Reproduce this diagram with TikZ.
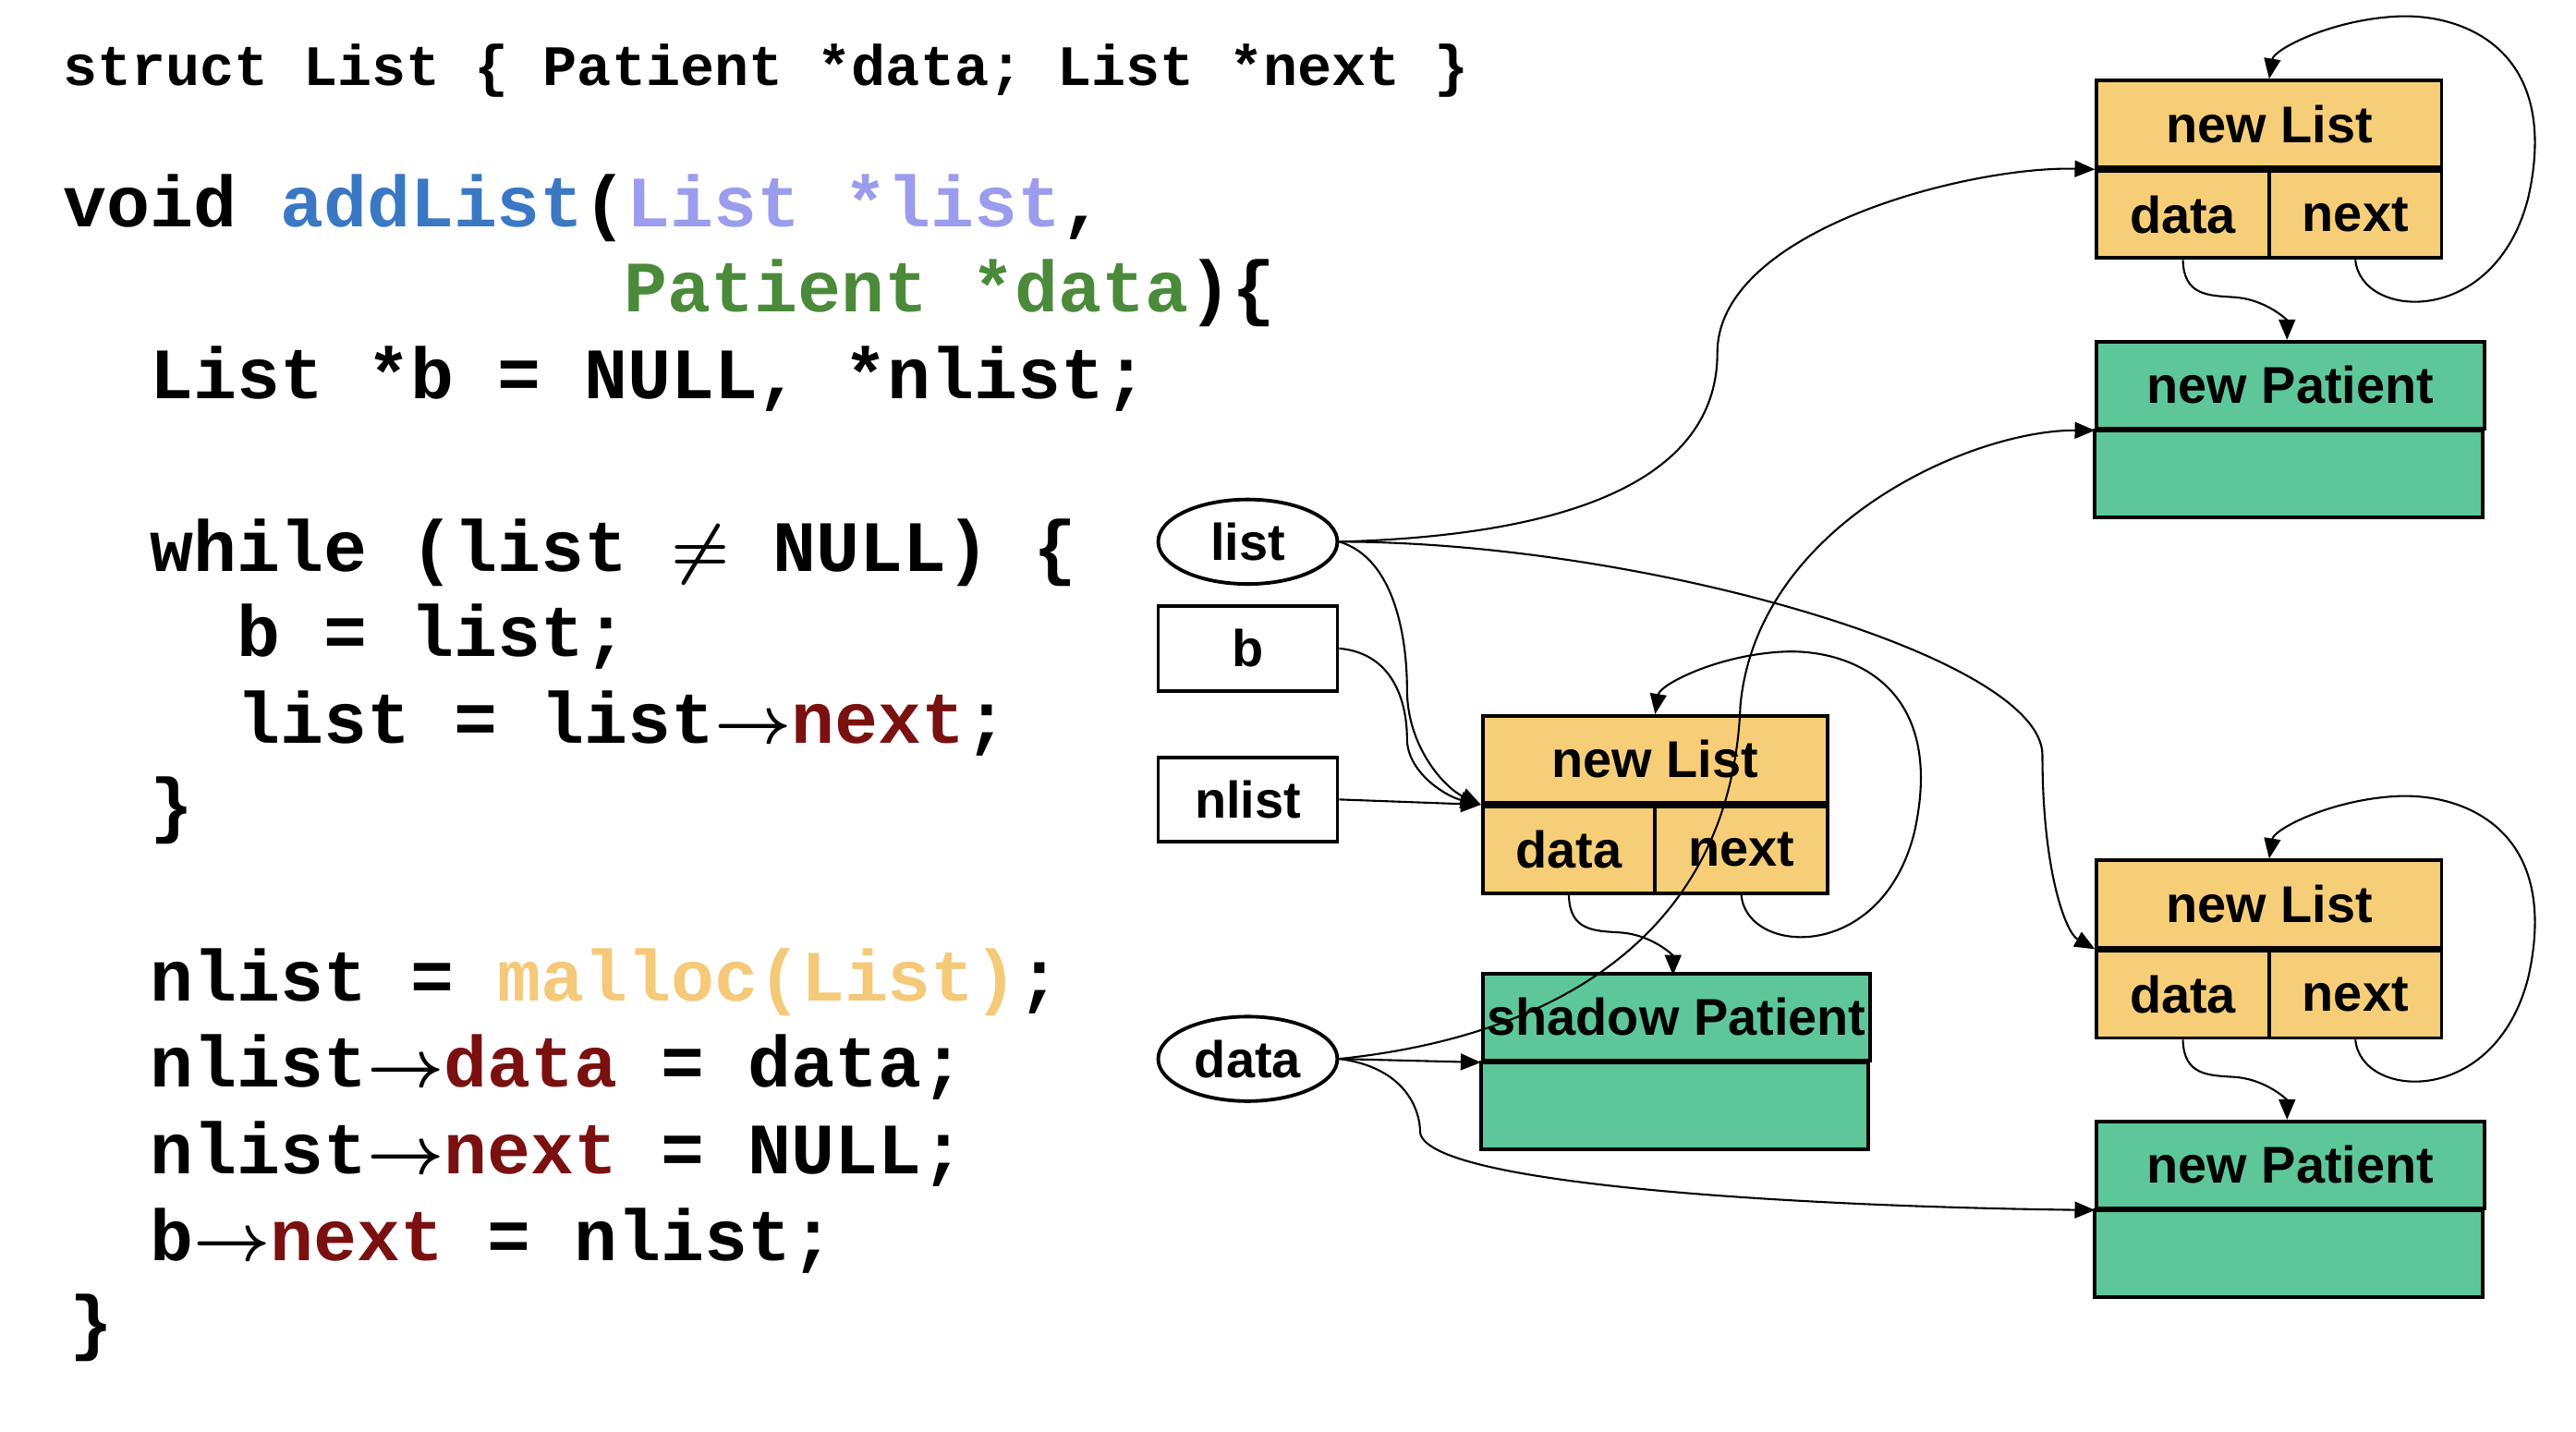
\documentclass[tikz,border=0pt]{standalone}
\usepackage{fontspec}
\setmainfont{Liberation Sans}
\newfontfamily\codefont{Liberation Mono}
\usetikzlibrary{arrows.meta,shapes.geometric}
\definecolor{lorange}{HTML}{F7CE78}
\definecolor{lgreen}{HTML}{5DC79A}
\definecolor{cblue}{HTML}{3A78C3}
\definecolor{cpurple}{HTML}{9C9CEE}
\definecolor{cgreen}{HTML}{4A8A3A}
\definecolor{cred}{HTML}{7A1010}
\definecolor{corange}{HTML}{F5C97A}
\newcommand\lblock[3]{%
  \node[cell,fill=lorange,minimum width=37.53mm,anchor=north west] (#1t) at (#2,#3) {new List};
  \node[cell,fill=lorange,minimum width=18.76mm,anchor=north west] (#1d) at (#1t.south west) {data};
  \node[cell,fill=lorange,minimum width=18.76mm,anchor=north east] (#1n) at (#1t.south east) {next};}
\newcommand\pblock[4]{%
  \node[cell,fill=lgreen,minimum width=42.17mm,anchor=north west] (#1t) at (#2,#3) {#4};
  \draw[line width=1.1pt,fill=lgreen] (#1t.south west) rectangle ++(236,53);}
\begin{document}
\begin{tikzpicture}[x=0.1787mm,y=-0.1787mm,
  cell/.style={draw,line width=1.1pt,minimum height=9.47mm,inner sep=0pt,font=\fontsize{16}{18}\selectfont\bfseries},
  var/.style={draw,line width=1.1pt,minimum width=19.5mm,minimum height=9.2mm,inner sep=0pt,font=\fontsize{16}{18}\selectfont\bfseries},
  code/.style={anchor=base west,inner sep=0pt,font=\codefont\bfseries\fontsize{22.4}{26}\selectfont},
  con/.style={line width=0.6pt,-{Triangle[length=2.2mm,width=1.8mm]}}]
\useasboundingbox (0,0) rectangle (1569,872);
% code
\node[code,font=\codefont\bfseries\fontsize{17.7}{20}\selectfont] (s) at (38,52) {struct List \{ Patient *data; List *next \}};
\node[code] (c1) at (38,138) {void \textcolor{cblue}{addList}(\textcolor{cpurple}{List *list},};
\node[code] (c2) at (380,190) {\textcolor{cgreen}{Patient *data})\{};
\node[code] (c3) at (91,243) {List *b = NULL, *nlist;};
\node[code] (c4) at (91,348) {while (list {\boldmath$\neq$} NULL) \{};
\node[code] (c5) at (144,400) {b = list;};
\node[code] (c6) at (144,453) {list = list{\boldmath$\to$}\textcolor{cred}{next};};
\node[code] (c7) at (91,505) {\}};
\node[code] (c8) at (91,610) {nlist = \textcolor{corange}{malloc(List)};};
\node[code] (c9) at (91,662) {nlist{\boldmath$\to$}\textcolor{cred}{data} = data;};
\node[code] (c10) at (91,715) {nlist{\boldmath$\to$}\textcolor{cred}{next} = NULL;};
\node[code] (c11) at (91,768) {b{\boldmath$\to$}\textcolor{cred}{next} = nlist;};
\node[code] (c12) at (42,820) {\}};
% blocks
\lblock{A}{1276}{48}
\pblock{P}{1276}{207}{new Patient}
\pblock{S}{902}{592}{shadow Patient}
\lblock{M}{902}{435}
\lblock{B}{1276}{523}
\pblock{Q}{1276}{682}{new Patient}
% variables
\node[var,ellipse] (list) at (760,330) {list};
\node[var] (b) at (760,395) {b};
\node[var] (nlist) at (760,487) {nlist};
\node[var,ellipse] (data) at (760,645) {data};
% connectors
\draw[con] (list.east) .. controls (1000,325) and (1046,270) .. (1046,215) .. controls (1046,140) and (1200,101) .. (At.south west);
\draw[con] (list.east) .. controls (1000,330) and (1244,400) .. (1244,460) .. controls (1244,530) and (1258,568) .. (Bt.south west);
\draw[con] (list.east) .. controls (850,340) and (857,390) .. (857,420) .. controls (857,455) and (880,480) .. (Mt.south west);
\draw[con] (b.east) .. controls (850,398) and (857,430) .. (857,450) .. controls (857,470) and (880,485) .. (Mt.south west);
\draw[con] (nlist.east) -- (Mt.south west);
\draw[con] (data.east) -- (St.south west);
\draw[con] (data.east) .. controls (960,630) and (1055,560) .. (1060,430) .. controls (1070,320) and (1200,262) .. (Pt.south west);
\draw[con] (data.east) .. controls (855,650) and (865,675) .. (865,690) .. controls (870,722) and (1100,735) .. (Qt.south west);
% self loops and data links
\foreach \L/\Pp/\dx/\dy in {A/P/0/0,M/S/-374/387,B/Q/0/475}{
  \begin{scope}[shift={(\dx,\dy)}]
  \draw[con] (\L n.south) .. controls (1438,195) and (1520,200) .. (1540,120)
    .. controls (1560,30) and (1500,8) .. (1460,10)
    .. controls (1420,12) and (1385,30) .. (\L t.north);
  \draw[con] (\L d.south) .. controls (1330,180) and (1345,180) .. (1360,181)
    .. controls (1380,182) and (1393,195) .. (1393,207);
  \end{scope}
}
\end{tikzpicture}
\end{document}
